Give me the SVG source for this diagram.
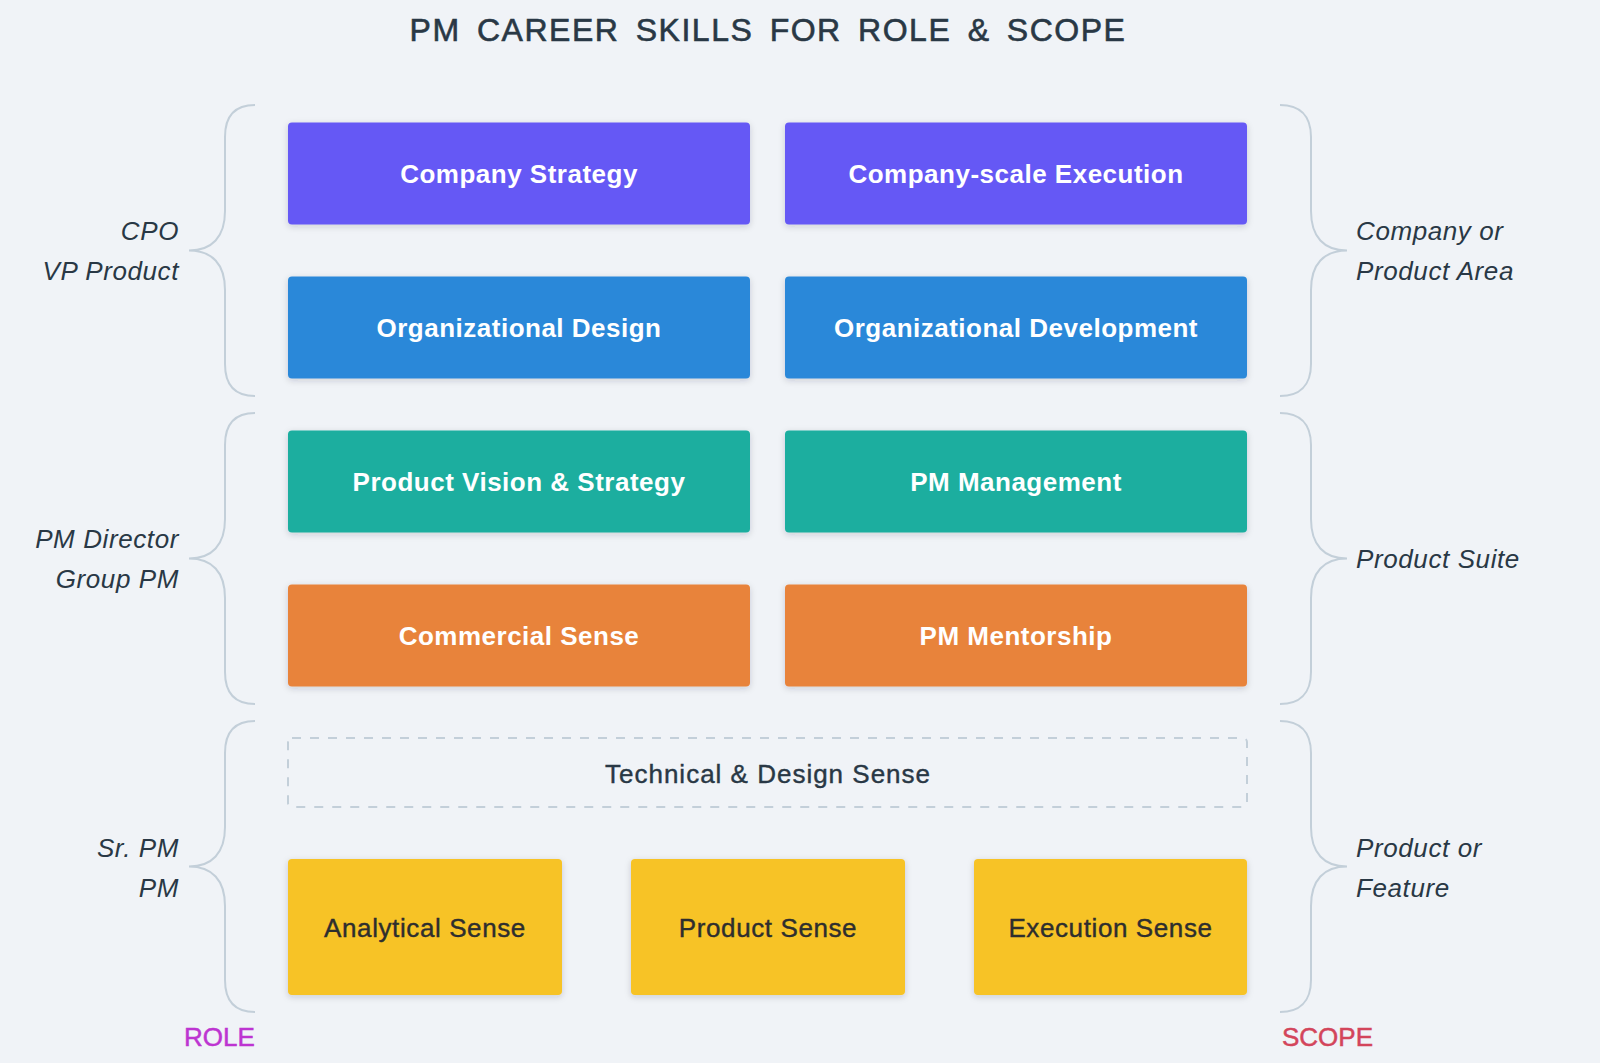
<svg xmlns="http://www.w3.org/2000/svg" width="1600" height="1063" viewBox="0 0 1600 1063">
  <defs>
    <filter id="sh" x="-5%" y="-10%" width="110%" height="130%">
      <feDropShadow dx="0" dy="2" stdDeviation="3" flood-color="#1a2a3a" flood-opacity="0.18"/>
    </filter>
    <style>
      .bg { fill: #F0F3F7; }
      .title { font-family: "Liberation Sans", Arial, sans-serif; font-size: 32px; fill: #293845; stroke: #293845; stroke-width: 0.6px; letter-spacing: 1.5px; word-spacing: 6px; }
      .box { filter: url(#sh); }
      .lbl { font-family: "Liberation Sans", Arial, sans-serif; font-size: 26px; font-weight: bold; fill: #ffffff; letter-spacing: 0.5px; }
      .lbl-dark { font-family: "Liberation Sans", Arial, sans-serif; font-size: 26px; fill: #2e2e2e; stroke: #2e2e2e; stroke-width: 0.4px; letter-spacing: 0.6px; }
      .lbl-tech { font-family: "Liberation Sans", Arial, sans-serif; font-size: 26px; fill: #293845; stroke: #293845; stroke-width: 0.4px; letter-spacing: 1px; }
      .side { font-family: "Liberation Sans", Arial, sans-serif; font-size: 26px; font-style: italic; fill: #293845; letter-spacing: 0.6px; }
      .brace { fill: none; stroke: #C3CFD9; stroke-width: 2; }
      .dash { fill: none; stroke: #C3CFD9; stroke-width: 2; stroke-dasharray: 9 9; }
      .role { font-family: "Liberation Sans", Arial, sans-serif; font-size: 26px; fill: #BD34D1; stroke: #BD34D1; stroke-width: 0.5px; }
      .scope { font-family: "Liberation Sans", Arial, sans-serif; font-size: 26px; fill: #D3455B; stroke: #D3455B; stroke-width: 0.5px; }
    </style>
  </defs>

  <rect class="bg" x="0" y="0" width="1600" height="1063"/>

  <text class="title" x="768" y="41" text-anchor="middle">PM CAREER SKILLS FOR ROLE &amp; SCOPE</text>

  <g id="connectors">
    <!-- left braces -->
    <path class="brace" d="M255,105 C236,105 225,115 225,137 L225,211 C225,237 212,250.5 189,250.5 C212,250.5 225,264 225,290 L225,364 C225,386 236,396 255,396"/>
    <path class="brace" d="M255,413 C236,413 225,423 225,445 L225,519 C225,545 212,558.5 189,558.5 C212,558.5 225,572 225,598 L225,672 C225,694 236,704 255,704"/>
    <path class="brace" d="M255,721 C236,721 225,731 225,753 L225,827 C225,853 212,866.5 189,866.5 C212,866.5 225,880 225,906 L225,980 C225,1002 236,1012 255,1012"/>
    <!-- right braces -->
    <path class="brace" d="M1280,105 C1299,105 1311,115 1311,137 L1311,211 C1311,237 1324,250.5 1347,250.5 C1324,250.5 1311,264 1311,290 L1311,364 C1311,386 1299,396 1280,396"/>
    <path class="brace" d="M1280,413 C1299,413 1311,423 1311,445 L1311,519 C1311,545 1324,558.5 1347,558.5 C1324,558.5 1311,572 1311,598 L1311,672 C1311,694 1299,704 1280,704"/>
    <path class="brace" d="M1280,721 C1299,721 1311,731 1311,753 L1311,827 C1311,853 1324,866.5 1347,866.5 C1324,866.5 1311,880 1311,906 L1311,980 C1311,1002 1299,1012 1280,1012"/>
  </g>

  <g id="role-labels">
    <text class="side" x="179" y="240" text-anchor="end">CPO</text>
    <text class="side" x="179" y="280" text-anchor="end">VP Product</text>
    <text class="side" x="179" y="548" text-anchor="end">PM Director</text>
    <text class="side" x="179" y="588" text-anchor="end">Group PM</text>
    <text class="side" x="179" y="857" text-anchor="end">Sr. PM</text>
    <text class="side" x="179" y="897" text-anchor="end">PM</text>
    <text class="role" x="184" y="1046">ROLE</text>
  </g>

  <g id="scope-labels">
    <text class="side" x="1356" y="240">Company or</text>
    <text class="side" x="1356" y="280">Product Area</text>
    <text class="side" x="1356" y="568">Product Suite</text>
    <text class="side" x="1356" y="857">Product or</text>
    <text class="side" x="1356" y="897">Feature</text>
    <text class="scope" x="1282" y="1046">SCOPE</text>
  </g>

  <g id="company-strategy">
    <rect class="box" x="288" y="122.5" width="462" height="102" rx="4" fill="#6558F5"/>
    <text class="lbl" x="519" y="183" text-anchor="middle">Company Strategy</text>
  </g>
  <g id="company-scale-execution">
    <rect class="box" x="785" y="122.5" width="462" height="102" rx="4" fill="#6558F5"/>
    <text class="lbl" x="1016" y="183" text-anchor="middle">Company-scale Execution</text>
  </g>
  <g id="organizational-design">
    <rect class="box" x="288" y="276.5" width="462" height="102" rx="4" fill="#2C88D9"/>
    <text class="lbl" x="519" y="337" text-anchor="middle">Organizational Design</text>
  </g>
  <g id="organizational-development">
    <rect class="box" x="785" y="276.5" width="462" height="102" rx="4" fill="#2C88D9"/>
    <text class="lbl" x="1016" y="337" text-anchor="middle">Organizational Development</text>
  </g>
  <g id="product-vision-strategy">
    <rect class="box" x="288" y="430.5" width="462" height="102" rx="4" fill="#1AAE9F"/>
    <text class="lbl" x="519" y="491" text-anchor="middle">Product Vision &amp; Strategy</text>
  </g>
  <g id="pm-management">
    <rect class="box" x="785" y="430.5" width="462" height="102" rx="4" fill="#1AAE9F"/>
    <text class="lbl" x="1016" y="491" text-anchor="middle">PM Management</text>
  </g>
  <g id="commercial-sense">
    <rect class="box" x="288" y="584.5" width="462" height="102" rx="4" fill="#E8833A"/>
    <text class="lbl" x="519" y="645" text-anchor="middle">Commercial Sense</text>
  </g>
  <g id="pm-mentorship">
    <rect class="box" x="785" y="584.5" width="462" height="102" rx="4" fill="#E8833A"/>
    <text class="lbl" x="1016" y="645" text-anchor="middle">PM Mentorship</text>
  </g>
  <g id="technical-design-sense">
    <rect class="dash" x="288" y="738" width="959" height="69" rx="4"/>
    <text class="lbl-tech" x="768" y="782.5" text-anchor="middle">Technical &amp; Design Sense</text>
  </g>
  <g id="analytical-sense">
    <rect class="box" x="288" y="859" width="274" height="136" rx="4" fill="#F7C325"/>
    <text class="lbl-dark" x="425" y="937" text-anchor="middle">Analytical Sense</text>
  </g>
  <g id="product-sense">
    <rect class="box" x="631" y="859" width="274" height="136" rx="4" fill="#F7C325"/>
    <text class="lbl-dark" x="768" y="937" text-anchor="middle">Product Sense</text>
  </g>
  <g id="execution-sense">
    <rect class="box" x="974" y="859" width="273" height="136" rx="4" fill="#F7C325"/>
    <text class="lbl-dark" x="1110.5" y="937" text-anchor="middle">Execution Sense</text>
  </g>
</svg>
